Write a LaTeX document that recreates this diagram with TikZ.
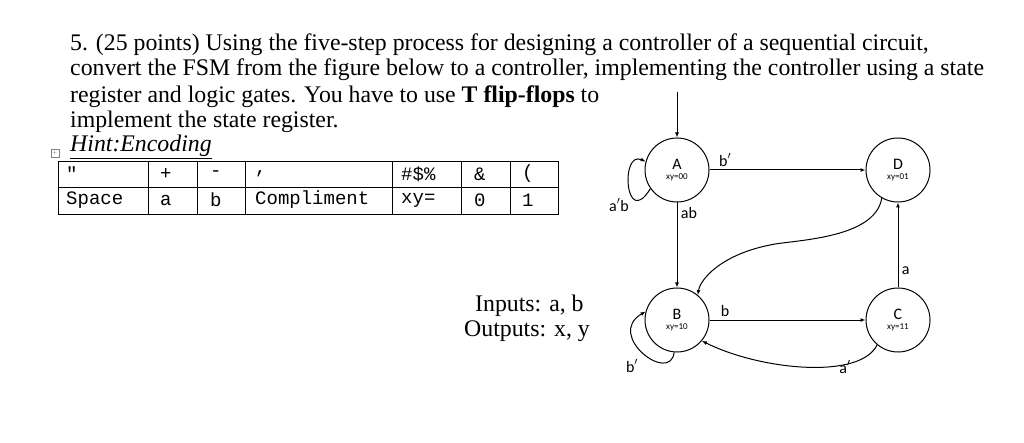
\documentclass[tikz,border=0pt]{standalone}
\usepackage{fontspec}
\setmainfont{Liberation Serif}
\newfontfamily\monof{Liberation Mono}
\newfontfamily\sansf{Carlito}
\usetikzlibrary{arrows.meta}
\begin{document}
\begin{tikzpicture}[x=1pt,y=-1pt,
  st/.style={circle,draw,line width=1pt,minimum size=64pt,inner sep=0pt,align=center,font=\sansf\fontsize{9}{9}\selectfont},
  tr/.style={line width=1pt,-{Latex[length=5pt,width=4pt]}},
  lb/.style={font=\sansf\fontsize{16}{16}\selectfont},
  body/.style={anchor=west,inner sep=0pt,font=\fontsize{23.8}{24}\selectfont},
  cell/.style={anchor=west,inner sep=0pt,font=\monof\fontsize{19}{19}\selectfont}]
\useasboundingbox (0,0) rectangle (1024,443);
\node[body] (l1) at (70,45) {5. (25 points) Using the five-step process for designing a controller of a sequential circuit,};
\node[body] (l2) at (70,70) {convert the FSM from the figure below to a controller, implementing the controller using a state};
\node[body] (l3) at (70,97) {register and logic gates. You have to use \textbf{T flip-flops} to};
\node[body] (l4) at (70,122) {implement the state register.};
\node[body] (hint) at (70,147) {\underline{\textit{Hint:Encoding}}};
\node[draw,gray,minimum size=8pt,inner sep=0pt,font=\fontsize{8}{8}\selectfont] (pl) at (55,153) {+};
% table
\draw[line width=0.8pt] (58,161) rectangle (558,214);
\draw[line width=0.8pt] (58,187) -- (558,187);
\foreach \x in {148,197,245,392,461,510} \draw[line width=0.8pt] (\x,161) -- (\x,214);
\node[cell] (c1) at (66,174) {″};
\node[cell] (c2) at (160,174) {+};
\node[cell] (c3) at (210,174) {-};
\node[cell] (c4) at (255,174) {,};
\node[cell] (c5) at (401,174) {\#\$\%};
\node[cell] (c6) at (474,174) {\&};
\node[cell] (c7) at (522,174) {(};
\node[cell] (d1) at (66,200) {Space};
\node[cell] (d2) at (160,200) {a};
\node[cell] (d3) at (210,200) {b};
\node[cell] (d4) at (255,200) {Compliment};
\node[cell] (d5) at (401,200) {xy=};
\node[cell] (d6) at (474,200) {0};
\node[cell] (d7) at (522,200) {1};
\node[body] (in) at (475,306) {Inputs: a, b};
\node[body] (out) at (464,331) {Outputs: x, y};
% FSM
\node[st] (A) at (677,170) {\fontsize{16}{16}\selectfont A\\[1pt]xy=00};
\node[st] (D) at (898,170) {\fontsize{16}{16}\selectfont D\\[1pt]xy=01};
\node[st] (B) at (677,320) {\fontsize{16}{16}\selectfont B\\[1pt]xy=10};
\node[st] (C) at (898,320) {\fontsize{16}{16}\selectfont C\\[1pt]xy=11};
\coordinate (init) at (677,92);
\draw[tr] (init) -- (A);
\draw[tr] (A) -- node[lb,pos=0.1,above] {b$'$} (D);
\draw[tr] (A) -- node[lb,pos=0.12,right] {ab} (B);
\draw[tr] (B) -- node[lb,pos=0.1,above] {b} (C);
\draw[tr] (C) -- node[lb,pos=0.2,right] {a} (D);
\draw[tr] (D.240) .. controls (875,240) and (790,240) .. (770,245) .. controls (720,255) and (700,280) .. (B.50);
\draw[tr] (C.230) .. controls (860,380) and (760,370) .. (B.320);
\node[lb] (na) at (845,367) {a$'$};
\draw[tr] (A.215) .. controls (625,230) and (620,150) .. (A.165);
\node[lb] (nab) at (619,205) {a$'$b};
\draw[tr] (B.265) .. controls (670,385) and (605,335) .. (B.165);
\node[lb] (nb) at (632,366) {b$'$};
\end{tikzpicture}
\end{document}
